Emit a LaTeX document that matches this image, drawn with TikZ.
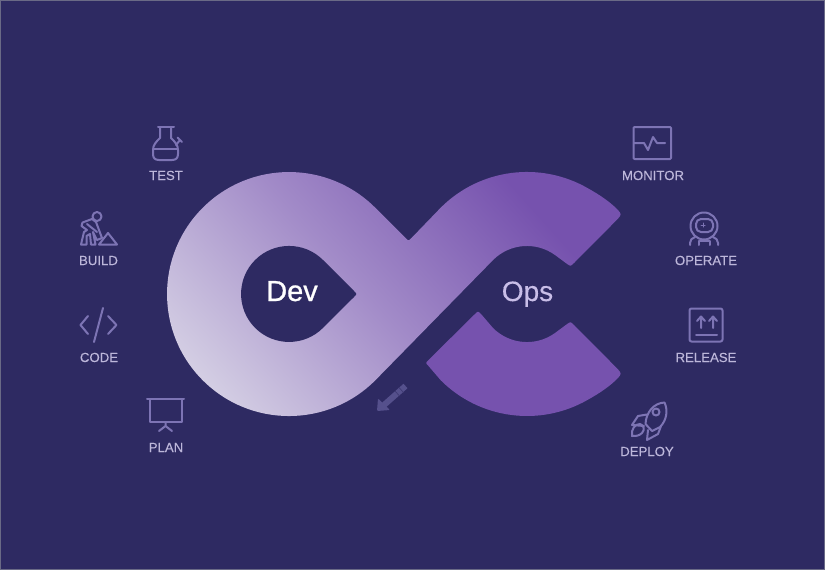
\documentclass[tikz,border=0pt]{standalone}
\usepackage{fontspec}
\setmainfont[FakeBold=0.15]{Liberation Sans}
\newfontfamily\titlefont[FakeBold=0.9]{Liberation Sans}
\newfontfamily\opsfont[FakeBold=0.3]{Liberation Sans}
\definecolor{bgc}{HTML}{2E2A62}
\definecolor{edgec}{HTML}{6A6A86}
\definecolor{iconc}{HTML}{7D74B4}
\definecolor{labelc}{HTML}{BDB7DA}
\definecolor{purp}{HTML}{7652AE}
\definecolor{arrowc}{HTML}{55508C}
\definecolor{opsc}{HTML}{C9BEE8}
\definecolor{lightc}{HTML}{D3CDE3}
\definecolor{midc}{HTML}{A28BC8}
\pgfdeclarehorizontalshading{devops}{100bp}{
  color(0bp)=(lightc); color(33.5bp)=(lightc); color(48.3bp)=(midc);
  color(63.3bp)=(purp); color(100bp)=(purp)}
\tikzset{
  icon/.style={draw=iconc,line width=2pt,line join=round,line cap=round},
  lab/.style={text=labelc,font=\fontsize{13.2}{15}\selectfont,inner sep=0pt,anchor=base},
  big/.style={inner sep=0pt,anchor=base}
}
\begin{document}
\begin{tikzpicture}[x=1pt,y=-1pt]
\useasboundingbox (0,0) rectangle (825,570);
\fill[bgc] (0,0) rectangle (825,570);
\draw[edgec,line width=1pt] (0.5,0.5) rectangle (824.5,569.5);
% main band
\begin{scope}
\clip (616.7,208.8) .. controls (622,214.3) .. (616.7,220)
  -- (574,263) .. controls (570.5,266.5) .. (566.5,263.5) -- (555,255)
  arc[start angle=-54.3,end angle=-135,radius=48]
  -- (375.3,380.3) arc[start angle=45,end angle=315,radius=122]
  -- (405.5,238) .. controls (408.5,241) .. (411.5,238)
  -- (440.7,207.7) arc[start angle=225,end angle=300,radius=122]
  .. controls (600,195) and (610,202) .. (616.7,208.8) -- cycle;
\begin{scope}[transform canvas={rotate around={42:(395,294)}}]
\shade[shading=devops] (95,-6) rectangle (695,594);
\end{scope}
\end{scope}
% Dev hole
\fill[bgc] (323,260) arc[start angle=315,end angle=45,radius=48]
  -- (354,297) .. controls (357,294) .. (354,291) -- cycle;
% lower right piece
\fill[purp] (493,328) arc[start angle=135,end angle=54.3,radius=48]
  -- (566.5,324.5) .. controls (570.5,321.5) .. (574,325)
  -- (616.7,368) .. controls (622,373.7) .. (616.7,379.2)
  .. controls (610,386) and (600,393) .. (588,399.65)
  arc[start angle=60,end angle=135,radius=122]
  -- (428.5,366) .. controls (425.5,363) .. (428.5,360)
  -- (475,314) .. controls (478,311) .. (481,314) -- cycle;
% small arrow
\draw[arrowc,line width=6pt] (405.5,386) -- (384,405);
\fill[arrowc,rounded corners=1pt] (377,411) -- (378,398.5) -- (390,410) -- cycle;
\draw[bgc!60!arrowc,line width=0.7pt] (399,387.5) -- (403.5,392.5) (395,391) -- (399.5,396);
% titles
\node[big,text=white,font=\titlefont\fontsize{29}{32}\selectfont] (dev) at (292,301) {Dev};
\node[big,text=opsc,font=\opsfont\fontsize{28}{32}\selectfont] (ops) at (527.5,301) {Ops};
% labels
\node[lab] (test) at (166,180) {TEST};
\node[lab] (build) at (98.5,265) {BUILD};
\node[lab] (code) at (99,362) {CODE};
\node[lab] (plan) at (166,452) {PLAN};
\node[lab] (monitor) at (653,180) {MONITOR};
\node[lab] (operate) at (706,265) {OPERATE};
\node[lab] (release) at (706,362) {RELEASE};
\node[lab] (deploy) at (647,456) {DEPLOY};
% TEST flask
\draw[icon] (158,127) -- (174,127);
\draw[icon] (160,127) -- (160,138) .. controls (156,142) and (153,145) .. (153,150)
  -- (153,154) .. controls (153,158) and (155,160) .. (159,160) -- (172,160)
  .. controls (176,160) and (178,158) .. (178,154) -- (178,150)
  .. controls (178,145) and (175,142) .. (171,138) -- (171,127);
\draw[icon] (154,149) -- (177,149);
\draw[icon] (176,145) -- (180,140) (177.5,137.5) -- (182,142);
% BUILD
\draw[icon] (97,216.5) circle[radius=4.5];
\draw[icon] (82.5,222.5) -- (92,219) -- (96,222) -- (102,238) -- (97,240) -- (93,232) -- (95.5,244.5) -- (91,244.5) -- (90,234) -- (86.5,236) -- (86.5,244.5) -- (81,244.5) -- (84,232) -- (87,230) -- (81.5,226) -- cycle;
\draw[icon] (87,224) -- (97,232);
\draw[icon] (99,244.5) -- (108,233) -- (117,244.5) -- cycle;
% CODE
\draw[icon] (88,316) -- (80.5,325) -- (88,334);
\draw[icon] (103,308) -- (94,342);
\draw[icon] (108,316) -- (116.5,325) -- (108,334);
% PLAN
\draw[icon] (147,399) -- (184,399);
\draw[icon] (149.5,399) -- (149.5,422) -- (181.5,422) -- (181.5,399);
\draw[icon] (165.5,422) -- (165.5,426) (159,431) -- (165.5,426) -- (172,431);
% MONITOR
\draw[icon,rounded corners=1pt] (633.5,127) rectangle (671,159);
\draw[icon] (634,143) -- (644,143) -- (648,150) -- (653,137) -- (657,143) -- (665,143);
% OPERATE
\draw[icon] (704,226) circle[radius=13.5];
\draw[icon,rounded corners=5pt] (696,219) rectangle (713,232);
\draw[icon,line width=1pt] (701,225) -- (705,225) (703,223) -- (703,227);
\draw[icon] (690,245) -- (690,243) .. controls (690,240) and (692,238) .. (695,237);
\draw[icon] (718,245) -- (718,243) .. controls (718,240) and (716,238) .. (713,237);
\draw[icon] (699,245) -- (699,240.5) -- (710,240.5) -- (710,245);
% RELEASE
\draw[icon,rounded corners=2pt] (689.5,308.5) rectangle (722.5,341.5);
\draw[icon] (701,328) -- (701,317) (697,321) -- (701,316.5) -- (705,321);
\draw[icon] (713,328) -- (713,317) (709,321) -- (713,316.5) -- (717,321);
\draw[icon] (696,335) -- (717,335);
% DEPLOY
\draw[icon] (664.5,402.5) .. controls (654,403) and (646,412) .. (645.5,424) -- (652,431) -- (660,427)
  .. controls (667,420) and (668,410) .. (664.5,402.5) -- cycle;
\draw[icon] (656,412) circle[radius=3.5];
\draw[icon] (647,414.5) -- (638,416) -- (632,425) -- (644,426);
\draw[icon] (661,426) -- (658,434) -- (647,440) -- (648,430);
\draw[icon] (632,436) .. controls (631,429) and (635,424) .. (640,424)
  .. controls (644,425) and (645,430) .. (642,433) .. controls (639,436) and (636,436) .. (632,436) -- cycle;
\end{tikzpicture}
\end{document}
